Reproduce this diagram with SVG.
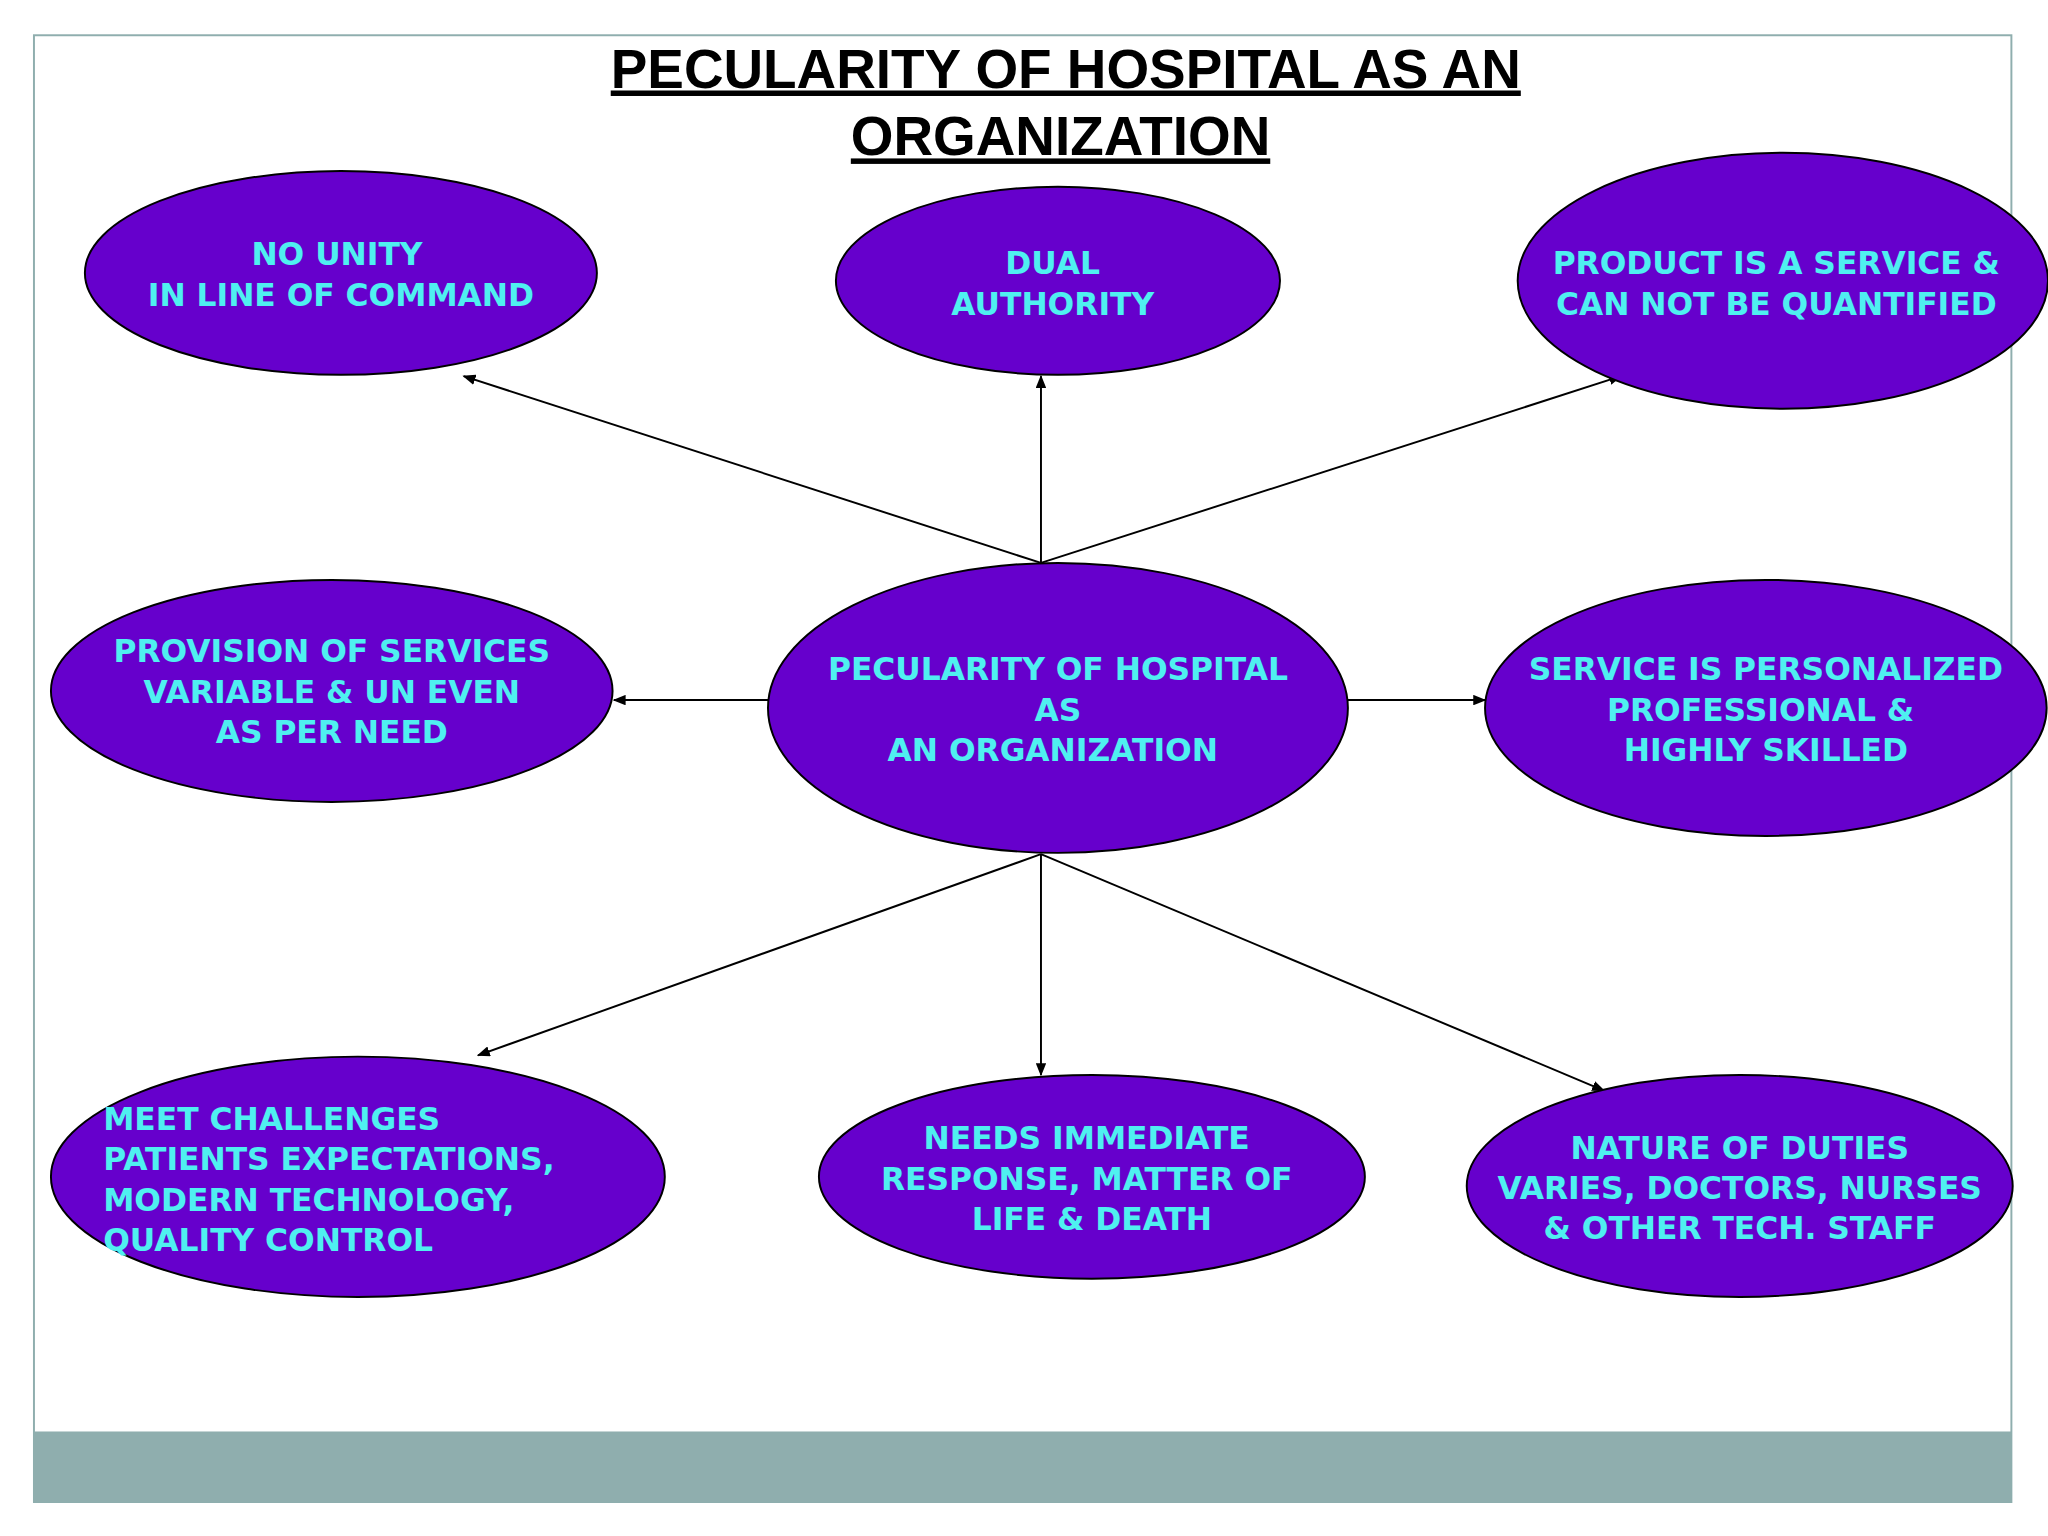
<svg xmlns="http://www.w3.org/2000/svg" width="2048" height="1536" viewBox="0 0 2048 1536">
<defs>
<marker id="ah" markerWidth="10" markerHeight="8" refX="9" refY="4" orient="auto" markerUnits="userSpaceOnUse"><path d="M0,0 L10,4 L0,8 z" fill="#000"/></marker>
<style>
.n ellipse{fill:#6600CC;stroke:#000;stroke-width:1.5}
.n text{font-family:"DejaVu Sans",Verdana,sans-serif;font-weight:bold;font-size:24px;fill:#4FF0F0;text-anchor:middle}
.c line{stroke:#000;stroke-width:1.5;marker-end:url(#ah)}
.t{font-family:"Liberation Sans",Arial,sans-serif;font-weight:bold;font-size:42px;text-anchor:middle;text-decoration:underline}
</style>
</defs>
<rect width="2048" height="1536" fill="#fff"/>
<g transform="scale(1.3061)">
<rect x="26" y="27" width="1514" height="1123" fill="#fff" stroke="#8FAEAE" stroke-width="1.5"/>
<rect x="26" y="1096" width="1514" height="54" fill="#8FAEAE"/>
<text class="t" x="816" y="67">PECULARITY OF HOSPITAL AS AN</text>
<text class="t" x="812" y="119">ORGANIZATION</text>
<g class="c">
<line x1="797" y1="431" x2="355" y2="288"/>
<line x1="797" y1="431" x2="797" y2="288"/>
<line x1="797" y1="431" x2="1241" y2="288"/>
<line x1="588" y1="536" x2="470" y2="536"/>
<line x1="1032" y1="536" x2="1137" y2="536"/>
<line x1="797" y1="654" x2="366" y2="808"/>
<line x1="797" y1="654" x2="797" y2="823"/>
<line x1="797" y1="654" x2="1228" y2="835"/>
</g>
<g class="n" id="n1"><ellipse cx="261" cy="209" rx="196" ry="78"/><text x="258" y="203">NO UNITY</text><text x="261" y="234">IN LINE OF COMMAND</text></g>
<g class="n" id="n2"><ellipse cx="810" cy="215" rx="170" ry="72"/><text x="806" y="210">DUAL</text><text x="806" y="241">AUTHORITY</text></g>
<g class="n" id="n3"><ellipse cx="1365" cy="215" rx="203" ry="98"/><text x="1360" y="210">PRODUCT IS A SERVICE &amp;</text><text x="1360" y="241">CAN NOT BE QUANTIFIED</text></g>
<g class="n" id="n4"><ellipse cx="254" cy="529" rx="215" ry="85"/><text x="254" y="507">PROVISION OF SERVICES</text><text x="254" y="538">VARIABLE &amp; UN EVEN</text><text x="254" y="569">AS PER NEED</text></g>
<g class="n" id="n5"><ellipse cx="810" cy="542" rx="222" ry="111"/><text x="810" y="521">PECULARITY OF HOSPITAL</text><text x="810" y="552">AS</text><text x="806" y="583">AN ORGANIZATION</text></g>
<g class="n" id="n6"><ellipse cx="1352" cy="542" rx="215" ry="98"/><text x="1352" y="521">SERVICE IS PERSONALIZED</text><text x="1348" y="552">PROFESSIONAL &amp;</text><text x="1352" y="583">HIGHLY SKILLED</text></g>
<g class="n" id="n7"><ellipse cx="274" cy="901" rx="235" ry="92"/><g style="text-anchor:start"><text x="79" y="865" style="text-anchor:start">MEET CHALLENGES</text><text x="79" y="896" style="text-anchor:start">PATIENTS EXPECTATIONS,</text><text x="79" y="927" style="text-anchor:start">MODERN TECHNOLOGY,</text><text x="79" y="958" style="text-anchor:start">QUALITY CONTROL</text></g></g>
<g class="n" id="n8"><ellipse cx="836" cy="901" rx="209" ry="78"/><text x="832" y="880">NEEDS IMMEDIATE</text><text x="832" y="911">RESPONSE, MATTER OF</text><text x="836" y="942">LIFE &amp; DEATH</text></g>
<g class="n" id="n9"><ellipse cx="1332" cy="908" rx="209" ry="85"/><text x="1332" y="887">NATURE OF DUTIES</text><text x="1332" y="918">VARIES, DOCTORS, NURSES</text><text x="1332" y="949">&amp; OTHER TECH. STAFF</text></g>
</g>
</svg>
